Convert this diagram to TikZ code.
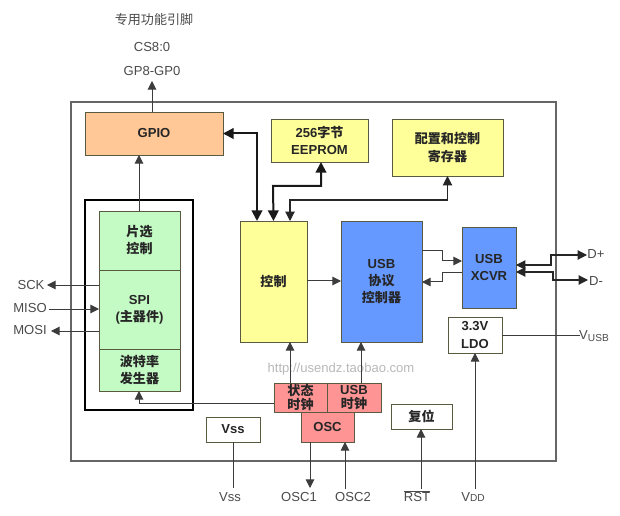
\documentclass[tikz,border=0pt]{standalone}
\usepackage{fontspec}
\setmainfont{Liberation Sans}
\newfontfamily\cjk{Noto Sans CJK SC}
\usetikzlibrary{arrows.meta,calc}
\newcommand{\zh}[1]{{\cjk #1}}
\newcommand{\smalltxt}[1]{{\fontsize{7.6}{9}\selectfont #1}}
\def\p{0.75pt}
\definecolor{edgec}{HTML}{5A5A40}
\definecolor{linec}{HTML}{3C3C3C}
\definecolor{labelc}{HTML}{4A4A4A}
\definecolor{gpioc}{HTML}{FFC896}
\definecolor{yelc}{HTML}{FFFF99}
\definecolor{grnc}{HTML}{C4FAC4}
\definecolor{bluc}{HTML}{6699FF}
\definecolor{redc}{HTML}{FF9494}
\tikzset{
  block/.style 2 args={draw=edgec,line width=0.7pt,inner sep=0pt,outer sep=0pt,align=center,
    font=\fontsize{9.8}{12.8}\selectfont\bfseries,text=black!85,minimum width=#1*\p,minimum height=#2*\p},
  yellowb/.style={fill=yelc},
  greenb/.style={fill=grnc},
  blueb/.style={fill=bluc},
  redb/.style={fill=redc},
  whiteb/.style={fill=white},
  pin/.style={inner sep=0pt,outer sep=0pt,align=center,text=labelc,font=\fontsize{9.8}{12.8}\selectfont},
  arr/.style={draw=linec,line width=0.75pt,-{Triangle[length=6.4pt,width=6.4pt]}},
  plain/.style={draw=linec,line width=0.75pt},
  bigarr/.style={draw=black!90,line width=1.5pt,{Triangle[length=8pt,width=8pt]}-{Triangle[length=8pt,width=8pt]}},
  midarr/.style={draw=black!85,line width=0.8pt,{Triangle[length=7pt,width=7pt]}-{Triangle[length=7pt,width=7pt]}},
}
\begin{document}
\begin{tikzpicture}[x=0.75pt,y=-0.75pt]
\useasboundingbox (0,0) rectangle (620,516);
% outer chip outline
\node[draw=black!60,line width=1pt,inner sep=0pt,outer sep=0pt,minimum width=485*\p,minimum height=359*\p] (chip) at (313.5,281.5) {};
% SPI frame
\node[draw=black,line width=1.4pt,inner sep=0pt,outer sep=0pt,minimum width=108*\p,minimum height=210*\p] (spiframe) at (139,305) {};
% blocks
\node[block={138}{43},fill=gpioc] (gpio) at (154,133.5) {GPIO};
\node[block={97}{43},yellowb] (eeprom) at (319.5,140.5) {256\zh{字节}\\EEPROM};
\node[block={111}{57},yellowb] (cfg) at (447.5,147.5) {\zh{配置和控制}\\\zh{寄存器}};
\node[block={67}{121},yellowb] (ctl) at (273.5,281.5) {\zh{控制}};
\node[block={81}{121},blueb] (usb) at (381.5,281.5) {USB\\\zh{协议}\\\zh{控制器}};
\node[block={54}{81},blueb] (xcvr) at (489,267.5) {USB\\XCVR};
\node[block={54}{36},whiteb] (ldo) at (475,335) {3.3V\\LDO};
\node[block={61}{25},whiteb] (reset) at (421.5,416.5) {\zh{复位}};
\node[block={54}{25},whiteb] (vssb) at (233,429.5) {Vss};
\node[block={81}{59},greenb] (cs) at (139.5,240.5) {\zh{片选}\\\zh{控制}};
\node[block={81}{79},greenb] (spi) at (139.5,309.5) {SPI\\(\zh{主器件})};
\node[block={81}{42},greenb] (baud) at (139.5,370) {\zh{波特率}\\\zh{发生器}};
\node[block={53}{29},redb,font=\fontsize{9.8}{10.4}\selectfont\bfseries] (sclk) at (300.5,397.5) {\zh{状态}\\\zh{时钟}};
\node[block={54}{29},redb,font=\fontsize{9.8}{10.4}\selectfont\bfseries] (uclk) at (354,397.5) {USB\\\zh{时钟}};
\node[block={53}{30},redb] (osc) at (327.5,427) {OSC};
% pin labels
\node[pin] (fn) at (154,20) {\zh{专用功能引脚}};
\node[pin] (csl) at (152,47) {CS8:0};
\node[pin] (gp) at (152,71) {GP8-GP0};
\node[pin] (sck) at (31,285) {SCK};
\node[pin] (miso) at (30,308) {MISO};
\node[pin] (mosi) at (30,330) {MOSI};
\node[pin] (dp) at (596,254.5) {D+};
\node[pin] (dm) at (596,281.5) {D-};
\node[pin] (vusb) at (594,336) {V\raisebox{-1.5pt}{\smalltxt{USB}}};
\node[pin] (vss) at (230,497) {Vss};
\node[pin] (o1) at (299,497) {OSC1};
\node[pin] (o2) at (353,497) {OSC2};
\node[pin] (rst) at (417,496) {$\overline{\hbox{RST}}$};
\node[pin] (vdd) at (473,497) {V\smalltxt{DD}};
\node[pin,text=black!28,font=\fontsize{9.8}{12}\selectfont] (wm) at (341,369) {http://usendz.taobao.com};
% free ends
\coordinate (gpend) at (152,81);
\coordinate (csx) at (139,211);
\coordinate (ctly) at (307,281);
\coordinate (sckend) at (47,285);
\coordinate (misoend) at (49,309);
\coordinate (mosiend) at (51,331);
\coordinate (vssend) at (233,488);
\coordinate (o1end) at (310,488);
\coordinate (o2end) at (345,489);
\coordinate (rstend) at (421,489);
\coordinate (vddend) at (475,489);
\coordinate (dpend) at (587,255);
\coordinate (dmend) at (588,280);
\coordinate (vuend) at (580,335);
% connectors
\draw[arr] (gpend |- gpio.north) -- (gpend);
\draw[arr] (csx |- cs.north) -- (csx |- gpio.south);
\draw[bigarr] (gpio.east) -| ([xshift=-16.5*\p]ctl.north);
\draw[bigarr] (eeprom.south -| 321,0) |- (273,186) -- (ctl.north);
\draw[midarr] (cfg.south) |- (290,200) -- ([xshift=16.5*\p]ctl.north);
\draw[arr] (ctl.east |- ctly) -- (usb.west |- ctly);
\draw[arr] (usb.east |- 0,251) -- (442,251) |- (xcvr.west |- 0,261);
\draw[arr] (xcvr.west |- 0,273) -- (442,273) |- (usb.east |- 0,282);
\draw[midarr] (xcvr.east |- 0,265) -- (551,265) |- (dpend);
\draw[midarr] (xcvr.east |- 0,272) -- (553,272) |- (dmend);
\draw[plain] (ldo.east) -- (vuend);
\draw[arr] (vddend) -- (ldo.south);
\draw[arr] (rstend) -- (rstend |- reset.south);
\draw[arr] (o2end) -- (o2end |- osc.south);
\draw[arr] (o1end |- osc.south) -- (o1end);
\draw[plain] (vssb.south) -- (vssend);
\draw[arr] (sclk.north -| 290,0) -- (ctl.south -| 290,0);
\draw[arr] (uclk.north -| 361,0) -- (usb.south -| 361,0);
\draw[arr] (sclk.west |- 0,403) -| (csx |- baud.south);
\draw[arr] (spi.west |- sckend) -- (sckend);
\draw[arr] (misoend) -- (spi.west |- misoend);
\draw[arr] (spi.west |- mosiend) -- (mosiend);
\end{tikzpicture}
\end{document}
